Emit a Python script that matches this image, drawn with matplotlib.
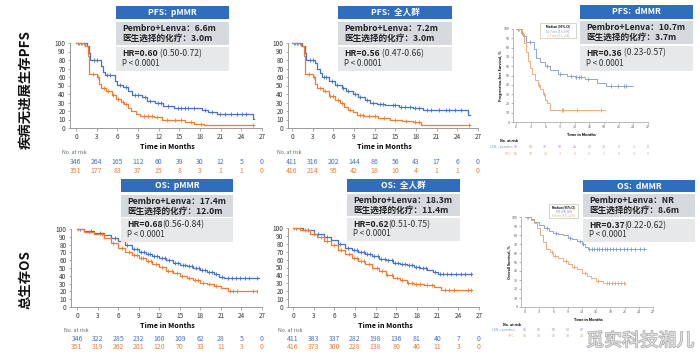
import numpy as np
import matplotlib
matplotlib.use("Agg")
import matplotlib.pyplot as plt
from matplotlib.patches import Rectangle
from matplotlib.transforms import blended_transform_factory
import matplotlib.patheffects as pe

plt.rcParams['font.family'] = ['Noto Sans CJK SC', 'DejaVu Sans']

W, H = 700, 356
BLUE = "#4472C4"
ORANGE = "#ED7D31"
BLUE_S = "#7F98C4"
ORANGE_S = "#E3A26E"
TITLE_BLUE = "#2F6DBD"
GRAY_A = "#D6D9DD"
GRAY_B = "#E7E8EA"

months = [0, 3, 6, 9, 12, 15, 18, 21, 24, 27]

# ---- PFS pMMR ----
pfs_pmmr_b_t = [0, 1.6, 1.9, 2.1, 3.6, 3.9, 4.2, 5.6, 5.9, 6.8, 7.6, 8.2, 9.6, 10.3, 11.5, 12.7, 14.2, 18.3, 19.2, 20.4, 25.7, 25.8]
pfs_pmmr_b_s = [100, 96, 88, 80, 73, 66, 62, 55, 51, 48, 44, 39, 36, 32, 29, 26, 23, 21, 19, 16, 11, 11]
pfs_pmmr_b_c = [0.3, 0.7, 1.2, 2.6, 3.1, 4.5, 5.0, 6.4, 7.2, 8.5, 9.0, 10.0, 10.8, 11.9, 12.3, 13.3, 14.8, 15.3, 15.8, 16.3, 17.2, 18.7, 19.8, 20.9, 21.6, 22.5, 23.3, 24.1, 24.7]
pfs_pmmr_o_t = [0, 1.3, 1.7, 1.9, 3.0, 3.3, 3.6, 4.4, 5.2, 5.8, 6.5, 7.0, 7.6, 8.0, 8.7, 9.3, 11.3, 12.5, 14.0, 15.8, 17.2, 18.6, 25.8]
pfs_pmmr_o_s = [100, 97, 85, 63, 60, 52, 47, 43, 39, 34, 31, 28, 24, 20, 17, 14, 13, 10, 9, 7, 5, 3, 3]
pfs_pmmr_o_c = [0.4, 0.9, 2.4, 3.2, 4.0, 4.7, 5.4, 6.1, 6.8, 7.3, 9.8, 10.4, 11.0, 11.8, 13.2, 14.4, 15.2, 16.7, 18.2, 25.7]
pfs_pmmr_risk_b = [346, 264, 165, 112, 60, 39, 30, 12, 5, 0]
pfs_pmmr_risk_o = [351, 177, 83, 37, 15, 8, 3, 1, 1, 0]

# ---- PFS all-comers ----
pfs_all_b_t = [0, 1.5, 1.9, 2.1, 3.4, 3.7, 4.0, 4.3, 5.3, 6.2, 7.2, 7.8, 8.8, 9.6, 10.6, 11.3, 12.4, 13.5, 15.5, 17.5, 19.0, 25.6, 25.8]
pfs_all_b_s = [100, 96, 88, 80, 77, 70, 65, 60, 55, 51, 47, 43, 40, 37, 33, 30, 28, 27, 25, 23, 21, 15, 15]
pfs_all_b_c = [0.3, 0.7, 1.2, 2.6, 3.1, 4.6, 5.0, 5.8, 6.6, 7.4, 8.2, 9.1, 9.9, 10.9, 11.7, 12.8, 13.2, 14.6, 15.0, 15.8, 16.4, 17.1, 17.9, 18.4, 19.6, 20.2, 21.3, 22.3, 22.8, 23.6, 24.5]
pfs_all_o_t = [0, 1.3, 1.7, 1.9, 3.0, 3.3, 3.7, 4.5, 5.3, 6.2, 7.0, 7.6, 8.1, 8.8, 9.4, 10.5, 12.5, 14.2, 16.0, 17.5, 18.7, 25.8]
pfs_all_o_s = [100, 97, 85, 63, 60, 52, 47, 43, 38, 33, 29, 25, 21, 19, 15, 14, 12, 10, 8, 7, 3, 3]
pfs_all_o_c = [0.4, 0.9, 2.4, 3.2, 4.0, 4.8, 5.5, 6.0, 6.7, 7.3, 8.4, 9.8, 10.3, 11.2, 12.0, 13.4, 15.0, 16.5, 17.8, 18.4, 25.7]
pfs_all_risk_b = [411, 316, 202, 144, 86, 56, 43, 17, 6, 0]
pfs_all_risk_o = [416, 214, 95, 42, 18, 10, 4, 1, 1, 0]

# ---- PFS dMMR ----
pfs_dmmr_b_t = [0, 1.0, 1.5, 2.0, 3.7, 4.0, 5.0, 6.0, 7.0, 8.5, 10.5, 12.0, 14.2, 16.5, 18.5, 24.0]
pfs_dmmr_b_s = [100, 96, 92, 86, 78, 69, 65, 60, 56, 52, 50, 48, 46, 42, 39, 39]
pfs_dmmr_b_c = [0.5, 1.2, 2.8, 6.3, 8.9, 11.2, 12.3, 12.8, 13.3, 14.8, 19.4, 20.8, 22.1, 22.5]
pfs_dmmr_o_t = [0, 1.2, 1.6, 2.0, 2.4, 2.8, 3.3, 3.8, 4.4, 5.0, 5.5, 5.9, 6.4, 7.0, 18.3]
pfs_dmmr_o_s = [100, 95, 85, 75, 66, 58, 52, 45, 40, 36, 30, 24, 20, 13, 13]
pfs_dmmr_o_c = [0.6, 1.4, 4.7, 5.7, 9.4, 9.6, 12.4, 17.4]
pfs_dmmr_risk_b = [65, 52, 37, 32, 26, 17, 13, 5, 1, 0]
pfs_dmmr_risk_o = [65, 37, 12, 3, 3, 2, 1, 0, 0, 0]

# ---- OS pMMR ----
os_pmmr_b_t = [0, 1, 2.5, 4, 5, 6, 7, 8, 9, 10, 11, 12, 13, 14, 15, 16, 17, 18, 19, 20, 20.7, 21.5, 26.5]
os_pmmr_b_s = [100, 98, 95, 92, 89, 85, 79, 74, 71, 68, 66, 63, 60, 57, 54, 52, 50, 47, 45, 42, 39, 37, 37]
os_pmmr_b_c = [0.5, 2.0, 3.3, 5.6, 7.3, 8.3, 8.8, 9.4, 9.8, 10.3, 10.7, 11.3, 11.7, 12.4, 12.8, 13.4, 14.3, 14.8, 15.4, 15.8, 16.4, 16.8, 17.4, 17.8, 18.3, 18.7, 19.3, 19.7, 20.3, 21.2, 22.0, 22.6, 23.2, 23.8, 24.5, 25.1, 26.2]
os_pmmr_o_t = [0, 1, 2.5, 4, 5, 6, 7, 8, 9, 10, 11, 12, 13, 14, 15, 16, 17, 18, 19, 20, 21, 22, 26.3]
os_pmmr_o_s = [100, 96, 93, 88, 82, 76, 71, 67, 63, 59, 55, 51, 46, 43, 40, 37, 34, 31, 29, 27, 25, 21, 21]
os_pmmr_o_c = [0.2, 1.8, 3.6, 5.3, 6.6, 7.6, 8.3, 8.7, 9.3, 9.7, 10.4, 10.8, 11.5, 12.4, 13.3, 13.8, 14.6, 15.3, 16.3, 17.2, 17.7, 18.4, 19.2, 20.3, 22.3, 22.8, 23.4, 25.7, 26.2]
os_pmmr_risk_b = [346, 322, 285, 232, 160, 109, 62, 28, 5, 0]
os_pmmr_risk_o = [351, 319, 262, 201, 120, 70, 33, 11, 3, 0]

# ---- OS all-comers ----
os_all_b_t = [0, 1.5, 3, 4.5, 5.5, 6.5, 7.5, 8.5, 9.5, 10.5, 11.5, 12.5, 13.5, 14.5, 15.5, 16.5, 17.5, 18.5, 19.5, 20.3, 21, 26]
os_all_b_s = [100, 97, 93, 89, 85, 80, 75, 72, 70, 67, 64, 61, 59, 56, 54, 53, 51, 49, 47, 44, 42, 42]
os_all_b_c = [0.5, 2.2, 3.6, 5.0, 6.8, 8.0, 8.8, 9.3, 9.8, 10.3, 10.8, 11.2, 11.8, 12.3, 12.8, 13.3, 13.8, 14.3, 14.8, 15.3, 15.8, 16.3, 16.8, 17.3, 17.8, 18.3, 18.8, 19.3, 20.6, 21.3, 21.8, 22.4, 23.0, 23.7, 24.4, 25.0, 25.9]
os_all_o_t = [0, 1, 2.5, 3.5, 4.5, 5.5, 6.5, 7.5, 8.5, 9.5, 10.5, 11.5, 12.5, 13.5, 14.5, 15.5, 16.5, 17.5, 19, 20.5, 21.5, 26]
os_all_o_s = [100, 97, 93, 88, 83, 78, 72, 67, 62, 58, 54, 49, 45, 41, 37, 34, 31, 29, 28, 25, 21, 21]
os_all_o_c = [0.2, 1.7, 3.0, 4.0, 5.0, 6.0, 7.0, 8.1, 8.8, 9.3, 9.8, 10.3, 11.1, 12.2, 12.9, 13.7, 14.3, 15.1, 15.8, 16.7, 17.3, 17.9, 18.5, 19.5, 20.2, 22.1, 22.7, 23.3, 25.4, 25.9]
os_all_risk_b = [411, 383, 337, 282, 198, 136, 81, 40, 7, 0]
os_all_risk_o = [416, 373, 300, 228, 138, 80, 40, 11, 3, 0]

# ---- OS dMMR ----
os_dmmr_b_t = [0, 1.2, 2, 3, 4, 5, 6, 7, 8, 9, 10, 11, 12, 12.6, 13.2, 25.5]
os_dmmr_b_s = [100, 98, 95, 91, 88, 85, 82, 81, 80, 77, 76, 73, 70, 67, 64, 64]
os_dmmr_b_c = [0.6, 4.6, 6.5, 9.5, 11.5, 12.3, 13.6, 14.1, 14.6, 15.2, 15.7, 16.3, 16.8, 17.4, 18.0, 18.6, 19.3, 20.0, 20.8, 21.6, 22.4, 23.3, 24.2, 25.0]
os_dmmr_o_t = [0, 1.2, 2, 2.6, 3.2, 3.8, 4.4, 5.2, 6, 7, 8, 9, 10, 11, 12, 13, 14, 15, 16.5, 21]
os_dmmr_o_s = [100, 97, 93, 88, 80, 72, 65, 61, 57, 54, 51, 48, 45, 42, 38, 35, 32, 29, 27, 26]
os_dmmr_o_c = [0.5, 5.6, 6.3, 8.6, 10.4, 12.6, 15.5, 17.2, 17.8, 18.4, 19.0, 19.6, 20.3, 20.8]
os_dmmr_risk_b = [65, 61, 56, 52, 47, 36, 21, 8, 1, 0]
os_dmmr_risk_o = [65, 54, 42, 33, 24, 16, 9, 3, 0, 0]

fig = plt.figure(figsize=(W / 100, H / 100), dpi=100)
renderer = fig.canvas.get_renderer()


def fx(x):
    return x / W


def fy(y):
    return 1 - y / H


def make_axes(x0, x27, y100, y0, left_px, small=False):
    # pixel positions of month 0 / 27 and 100% / 0%
    ppm = (x27 - x0) / 27.0
    xmin = -(x0 - left_px) / ppm
    xmax = 27.4
    right_px = x0 + xmax * ppm
    ax = fig.add_axes([fx(left_px), fy(y0), (right_px - left_px) / W, (y0 - y100) / H])
    ax.set_xlim(xmin, xmax)
    ax.set_ylim(0, 100)
    for s in ["top", "right"]:
        ax.spines[s].set_visible(False)
    col = "#8C8C8C" if not small else "#A0A0A0"
    for s in ["left", "bottom"]:
        ax.spines[s].set_color(col)
        ax.spines[s].set_linewidth(0.6 if not small else 0.5)
    ax.spines["bottom"].set_bounds(xmin, 27)
    ax.set_xticks(months)
    ax.set_yticks(np.arange(0, 101, 10))
    fs = 4.6 if not small else 2.6
    ax.tick_params(axis="both", length=1.8 if not small else 1.2, width=0.5, color=col,
                   labelsize=fs, pad=1.5 if not small else 1.0, labelcolor="#333333" if not small else "#555555")
    ax.patch.set_alpha(0)
    return ax


def km(ax, t, s, c, color, lw=0.9, ms=3.0):
    t = np.asarray(t, float)
    s = np.asarray(s, float)
    ax.step(t, s, where="post", color=color, lw=lw, clip_on=False, zorder=3)
    c = np.asarray(c, float)
    idx = np.searchsorted(t, c, side="right") - 1
    ax.plot(c, s[idx], ls="none", marker="|", ms=ms, mew=0.6, color=color, zorder=3)


def risk_rows(ax, rb, ro, yb, yo, fs=5.0):
    tr = blended_transform_factory(ax.transData, fig.transFigure)
    for m, b, o in zip(months, rb, ro):
        ax.text(m, fy(yb), str(b), transform=tr, ha="center", va="center", fontsize=fs, color=BLUE)
        ax.text(m, fy(yo), str(o), transform=tr, ha="center", va="center", fontsize=fs, color=ORANGE)


def info_boxes(x0, x1, yt0, yt1, ya0, ya1, yb0, yb1, title, line1, line2, hr_b, hr_r):
    fig.patches.append(Rectangle((fx(x0), fy(yt1)), (x1 - x0) / W, (yt1 - yt0) / H,
                                 transform=fig.transFigure, fc=TITLE_BLUE, ec="none", zorder=5))
    fig.patches.append(Rectangle((fx(x0), fy(ya1)), (x1 - x0) / W, (ya1 - ya0) / H,
                                 transform=fig.transFigure, fc=GRAY_A, ec="none", zorder=5))
    fig.patches.append(Rectangle((fx(x0), fy(yb1)), (x1 - x0) / W, (yb1 - yb0) / H,
                                 transform=fig.transFigure, fc=GRAY_B, ec="none", zorder=5))
    fig.text(fx((x0 + x1) / 2), fy((yt0 + yt1) / 2), title, ha="center", va="center",
             color="white", fontsize=6.2, fontweight="bold", zorder=6)
    tx = x0 + 6
    ha = (ya1 - ya0)
    fig.text(fx(tx), fy(ya0 + ha * 0.28), line1, ha="left", va="center", fontsize=6.2,
             fontweight="bold", color="#222222", zorder=6)
    fig.text(fx(tx), fy(ya0 + ha * 0.72), line2, ha="left", va="center", fontsize=6.2,
             fontweight="bold", color="#222222", zorder=6)
    hb = (yb1 - yb0)
    t1 = fig.text(fx(tx), fy(yb0 + hb * 0.28), hr_b, ha="left", va="center", fontsize=6.2,
                  fontweight="bold", color="#222222", zorder=6)
    bb = t1.get_window_extent(renderer=renderer)
    fig.text(bb.x1 / W, fy(yb0 + hb * 0.28), hr_r, ha="left", va="center", fontsize=6.2,
             color="#333333", zorder=6)
    fig.text(fx(tx), fy(yb0 + hb * 0.68), "P < 0.0001", ha="left", va="center", fontsize=5.8,
             color="#333333", zorder=6)


# ================= PFS pMMR =================
ax1 = make_axes(76, 262, 43, 128, 70)
km(ax1, pfs_pmmr_b_t, pfs_pmmr_b_s, pfs_pmmr_b_c, BLUE)
km(ax1, pfs_pmmr_o_t, pfs_pmmr_o_s, pfs_pmmr_o_c, ORANGE)
ax1.set_xlabel("Time in Months", fontsize=5.2, fontweight="bold", labelpad=1.5)
fig.text(fx(62), fy(153), "No. at risk", fontsize=3.8, color="#666666", va="center")
risk_rows(ax1, pfs_pmmr_risk_b, pfs_pmmr_risk_o, 162, 171)
info_boxes(116, 229, 6, 19, 22, 45, 47, 71, "PFS:  pMMR",
           "Pembro+Lenva：6.6m", "医生选择的化疗：3.0m", "HR=0.60", " (0.50-0.72)")

# ================= PFS all =================
ax2 = make_axes(292, 478, 43, 128, 288)
km(ax2, pfs_all_b_t, pfs_all_b_s, pfs_all_b_c, BLUE)
km(ax2, pfs_all_o_t, pfs_all_o_s, pfs_all_o_c, ORANGE)
ax2.set_xlabel("Time in Months", fontsize=5.2, fontweight="bold", labelpad=1.5)
fig.text(fx(277), fy(153), "No. at risk", fontsize=3.8, color="#666666", va="center")
risk_rows(ax2, pfs_all_risk_b, pfs_all_risk_o, 162, 171)
info_boxes(338, 452, 6, 19, 22, 45, 47, 71, "PFS:  全人群",
           "Pembro+Lenva：7.2m", "医生选择的化疗：3.0m", "HR=0.56", " (0.47-0.66)")

# ================= PFS dMMR =================
ax3 = make_axes(516, 648, 29, 122, 513, small=True)
km(ax3, pfs_dmmr_b_t, pfs_dmmr_b_s, pfs_dmmr_b_c, BLUE_S, lw=0.6, ms=2.5)
km(ax3, pfs_dmmr_o_t, pfs_dmmr_o_s, pfs_dmmr_o_c, ORANGE_S, lw=0.6, ms=2.5)
ax3.set_xlabel("Time in Months", fontsize=2.8, fontweight="bold", labelpad=2.5)
ax3.set_ylabel("Progression-free Survival, %", fontsize=2.6, fontweight="bold", labelpad=1)
fig.text(fx(500), fy(141), "No. at risk", fontsize=2.6, fontweight="bold", va="center")
fig.text(fx(512), fy(147), "LEN + pembro", fontsize=2.5, color=BLUE_S, ha="right", va="center")
fig.text(fx(512), fy(154), "TPC", fontsize=2.5, color=ORANGE_S, ha="right", va="center")
tr3 = blended_transform_factory(ax3.transData, fig.transFigure)
for m, b, o in zip(months, pfs_dmmr_risk_b, pfs_dmmr_risk_o):
    ax3.text(m, fy(147), str(b), transform=tr3, ha="center", va="center", fontsize=2.6, color=BLUE_S)
    ax3.text(m, fy(154), str(o), transform=tr3, ha="center", va="center", fontsize=2.6, color=ORANGE_S)
fig.patches.append(Rectangle((fx(540), fy(38)), 36 / W, 15 / H, transform=fig.transFigure,
                             fc="white", ec="#B9C9B0", lw=0.5, zorder=4))
fig.text(fx(558), fy(26.5), "Median (95% CI)", fontsize=2.2, fontweight="bold", ha="center", va="center", zorder=5)
fig.text(fx(558), fy(31), "10.7 mo (5.6, NR)", fontsize=2.2, color=BLUE_S, ha="center", va="center", zorder=5)
fig.text(fx(558), fy(35), "3.7 mo (3.1, 4.4)", fontsize=2.2, color=ORANGE_S, ha="center", va="center", zorder=5)
info_boxes(580, 693, 5, 19, 21, 44, 46, 71, "PFS:  dMMR",
           "Pembro+Lenva：10.7m", "医生选择的化疗：3.7m", "HR=0.36", " (0.23-0.57)")

# ================= OS pMMR =================
ax4 = make_axes(77, 262, 229, 307, 71)
km(ax4, os_pmmr_b_t, os_pmmr_b_s, os_pmmr_b_c, BLUE)
km(ax4, os_pmmr_o_t, os_pmmr_o_s, os_pmmr_o_c, ORANGE)
ax4.set_xlabel("Time in Months", fontsize=5.2, fontweight="bold", labelpad=1.5)
fig.text(fx(64), fy(331), "No. at risk", fontsize=3.8, color="#666666", va="center")
risk_rows(ax4, os_pmmr_risk_b, os_pmmr_risk_o, 339, 347)
info_boxes(121, 233, 179, 192, 195, 217, 218, 242, "OS:  pMMR",
           "Pembro+Lenva：17.4m", "医生选择的化疗：12.0m", "HR=0.68", "(0.56-0.84)")

# ================= OS all =================
ax5 = make_axes(293, 479, 228, 307, 288)
km(ax5, os_all_b_t, os_all_b_s, os_all_b_c, BLUE)
km(ax5, os_all_o_t, os_all_o_s, os_all_o_c, ORANGE)
ax5.set_xlabel("Time in Months", fontsize=5.2, fontweight="bold", labelpad=1.5)
fig.text(fx(278), fy(331), "No. at risk", fontsize=3.8, color="#666666", va="center")
risk_rows(ax5, os_all_risk_b, os_all_risk_o, 339, 347)
info_boxes(347, 460, 179, 192, 194, 216, 218, 241, "OS:  全人群",
           "Pembro+Lenva：18.3m", "医生选择的化疗：11.4m", "HR=0.62", "(0.51-0.75)")

# ================= OS dMMR =================
ax6 = make_axes(525, 653, 217, 307, 521, small=True)
km(ax6, os_dmmr_b_t, os_dmmr_b_s, os_dmmr_b_c, BLUE_S, lw=0.6, ms=2.5)
km(ax6, os_dmmr_o_t, os_dmmr_o_s, os_dmmr_o_c, ORANGE_S, lw=0.6, ms=2.5)
ax6.set_xlabel("Time in Months", fontsize=2.8, fontweight="bold", labelpad=2.5)
ax6.set_ylabel("Overall Survival, %", fontsize=2.6, fontweight="bold", labelpad=1)
fig.text(fx(503), fy(325), "No. at risk", fontsize=2.6, fontweight="bold", va="center")
fig.text(fx(515), fy(330), "LEN + pembro", fontsize=2.5, color=BLUE_S, ha="right", va="center")
fig.text(fx(515), fy(336), "TPC", fontsize=2.5, color=ORANGE_S, ha="right", va="center")
tr6 = blended_transform_factory(ax6.transData, fig.transFigure)
for m, b, o in zip(months[:5], os_dmmr_risk_b[:5], os_dmmr_risk_o[:5]):
    ax6.text(m, fy(330), str(b), transform=tr6, ha="center", va="center", fontsize=2.6, color=BLUE_S)
    ax6.text(m, fy(336), str(o), transform=tr6, ha="center", va="center", fontsize=2.6, color=ORANGE_S)
fig.patches.append(Rectangle((fx(549), fy(218)), 29 / W, 14 / H, transform=fig.transFigure,
                             fc="white", ec="#B9C9B0", lw=0.5, zorder=4))
fig.text(fx(563.5), fy(207), "Median (95% CI)", fontsize=2.1, fontweight="bold", ha="center", va="center", zorder=5)
fig.text(fx(563.5), fy(211), "NR (NR, NR)", fontsize=2.1, color=BLUE_S, ha="center", va="center", zorder=5)
fig.text(fx(563.5), fy(215), "8.6 mo (5.5, 12.9)", fontsize=2.1, color=ORANGE_S, ha="center", va="center", zorder=5)
info_boxes(583, 695, 180, 192, 194, 217, 219, 242, "OS:  dMMR",
           "Pembro+Lenva：NR", "医生选择的化疗：8.6m", "HR=0.37", "(0.22-0.62)")

# ---- row labels ----
fig.text(fx(26), fy(90), "疾病无进展生存PFS", rotation=90, ha="center", va="center",
         fontsize=9.6, fontweight="bold", color="#111111")
fig.text(fx(26), fy(280), "总生存OS", rotation=90, ha="center", va="center",
         fontsize=9.6, fontweight="bold", color="#111111")

# ---- watermark ----
fig.text(fx(640), fy(341), "觅实科技湘儿", ha="center", va="center", fontsize=13,
         color="#E2E2E2", zorder=10,
         path_effects=[pe.withStroke(linewidth=1.0, foreground="#A8A8A8")])

fig.savefig("out.png", dpi=100)
